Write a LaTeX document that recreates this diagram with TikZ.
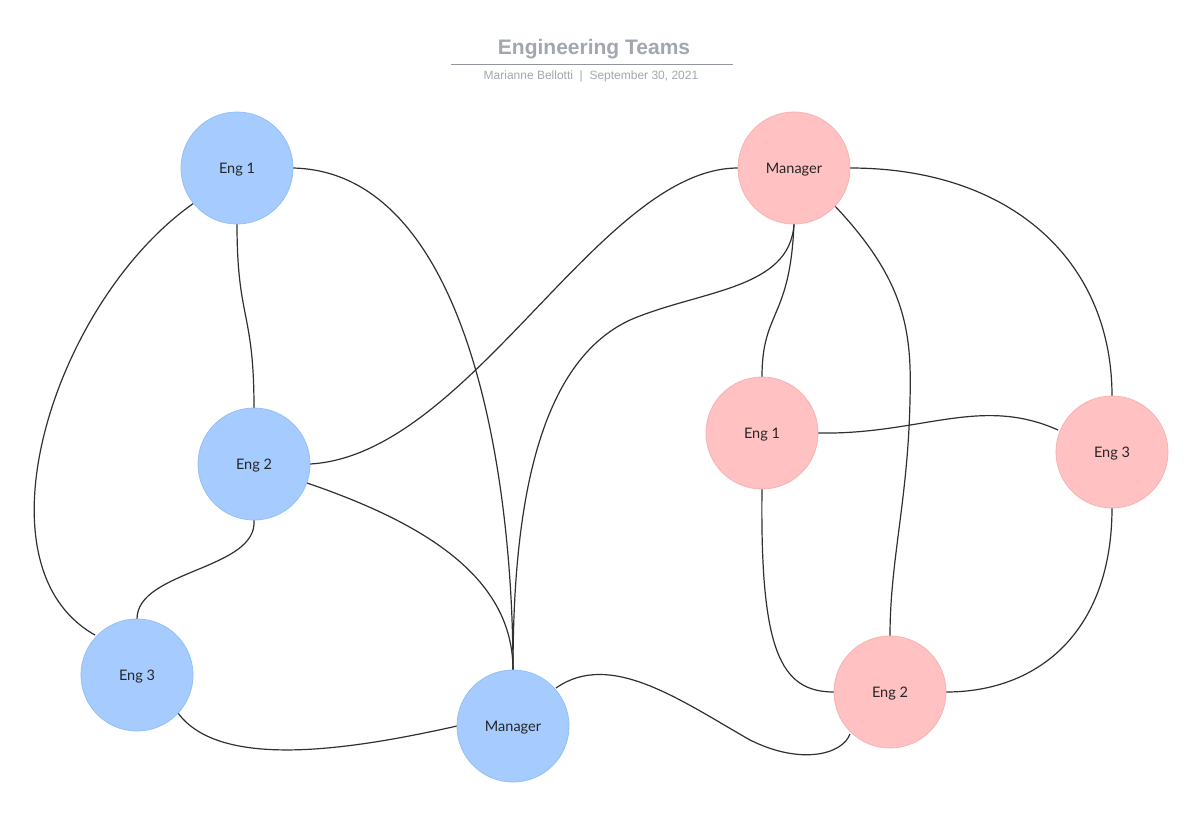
\documentclass[tikz,border=0pt]{standalone}
\usepackage{fontspec}
\setmainfont{Liberation Sans}
\newfontfamily\nodefont{Lato}
\definecolor{bluefill}{HTML}{A6CCFF}
\definecolor{blueline}{HTML}{93BFF7}
\definecolor{redfill}{HTML}{FFC1C1}
\definecolor{redline}{HTML}{F7B2B2}
\definecolor{titlegray}{HTML}{A2A7AF}
\definecolor{edgecol}{HTML}{303030}
\begin{document}
\begin{tikzpicture}[x=1pt,y=-1pt,
  circ/.style={circle,line width=0.8pt,minimum size=112pt,inner sep=0pt},
  bluenode/.style={circ,fill=bluefill,draw=blueline,label={[font=\nodefont\fontsize{14.5}{16}\selectfont,text=black!85,yshift=-2pt]center:#1}},
  rednode/.style={circ,fill=redfill,draw=redline,label={[font=\nodefont\fontsize{14.5}{16}\selectfont,text=black!85,yshift=-2pt]center:#1}},
  edge/.style={draw=edgecol,line width=1.2pt}]
\useasboundingbox[fill=white] (0,0) rectangle (1200,815);
% title
\node[font=\bfseries\fontsize{21}{24}\selectfont,text=titlegray] (title) at (594,49.5) {Engineering Teams};
\coordinate (tl) at (451,64);
\coordinate (tr) at (733,64);
\draw[titlegray!90!black,line width=1pt] (tl) -- (tr);
\node[font=\fontsize{12}{14}\selectfont,text=titlegray] (sub) at (591,76) {Marianne Bellotti~~|~~September 30, 2021};
% edges drawn first (under nodes)
\coordinate (b1r) at (293,168);
\coordinate (b1b) at (237,224);
\coordinate (b1ll) at (194,203);
\coordinate (b2t) at (254,408);
\coordinate (b2r) at (310,464);
\coordinate (b2lr) at (307,483);
\coordinate (b2b) at (254,520);
\coordinate (b3t) at (137,619);
\coordinate (b3ul) at (95,635);
\coordinate (b3lr) at (178,713);
\coordinate (bmt) at (513,670);
\coordinate (bml) at (457,726);
\coordinate (bmr) at (556,688);
\coordinate (rml) at (738,168);
\coordinate (rmb) at (794,224);
\coordinate (rmlr) at (834,205);
\coordinate (rmr) at (850,168);
\coordinate (r1t) at (762,377);
\coordinate (r1r) at (818,433);
\coordinate (r1b) at (762,489);
\coordinate (r3t) at (1112,396);
\coordinate (r3l) at (1058,430);
\coordinate (r3b) at (1112,508);
\coordinate (r2t) at (890,636);
\coordinate (r2l) at (834,692);
\coordinate (r2r) at (946,692);
\coordinate (r2ll) at (850,734);
\draw[edge] (b1r) .. controls (470,172) and (513,480) .. (bmt);
\draw[edge] (b1b) .. controls (237,320) and (254,310) .. (b2t);
\draw[edge] (b1ll) .. controls (55,300) and (-30,565) .. (b3ul);
\draw[edge] (b2r) .. controls (470,455) and (600,168) .. (rml);
\draw[edge] (b2lr) .. controls (430,525) and (513,580) .. (bmt);
\draw[edge] (b2b) .. controls (258,570) and (137,570) .. (b3t);
\draw[edge] (b3lr) .. controls (220,770) and (350,750) .. (bml);
\draw[edge] (rmb) .. controls (790,290) and (700,290) .. (630,320) .. controls (540,362) and (513,500) .. (bmt);
\draw[edge] (rmb) .. controls (790,320) and (762,310) .. (r1t);
\draw[edge] (rmlr) .. controls (905,280) and (912,330) .. (910,400) .. controls (908,500) and (890,560) .. (r2t);
\draw[edge] (rmr) .. controls (1010,168) and (1112,260) .. (r3t);
\draw[edge] (r1r) .. controls (920,435) and (980,395) .. (r3l);
\draw[edge] (r1b) .. controls (760,650) and (780,692) .. (r2l);
\draw[edge] (r3b) .. controls (1112,630) and (1040,692) .. (r2r);
\draw[edge] (bmr) .. controls (610,650) and (680,700) .. (750,740) .. controls (800,765) and (842,755) .. (r2ll);
% nodes
\node[bluenode=Eng 1] (be1) at (237,168) {};
\node[bluenode=Eng 2] (be2) at (254,464) {};
\node[bluenode=Eng 3] (be3) at (137,675) {};
\node[bluenode=Manager] (bm) at (513,726) {};
\node[rednode=Manager] (rm) at (794,168) {};
\node[rednode=Eng 1] (re1) at (762,433) {};
\node[rednode=Eng 3] (re3) at (1112,452) {};
\node[rednode=Eng 2] (re2) at (890,692) {};
\end{tikzpicture}
\end{document}
